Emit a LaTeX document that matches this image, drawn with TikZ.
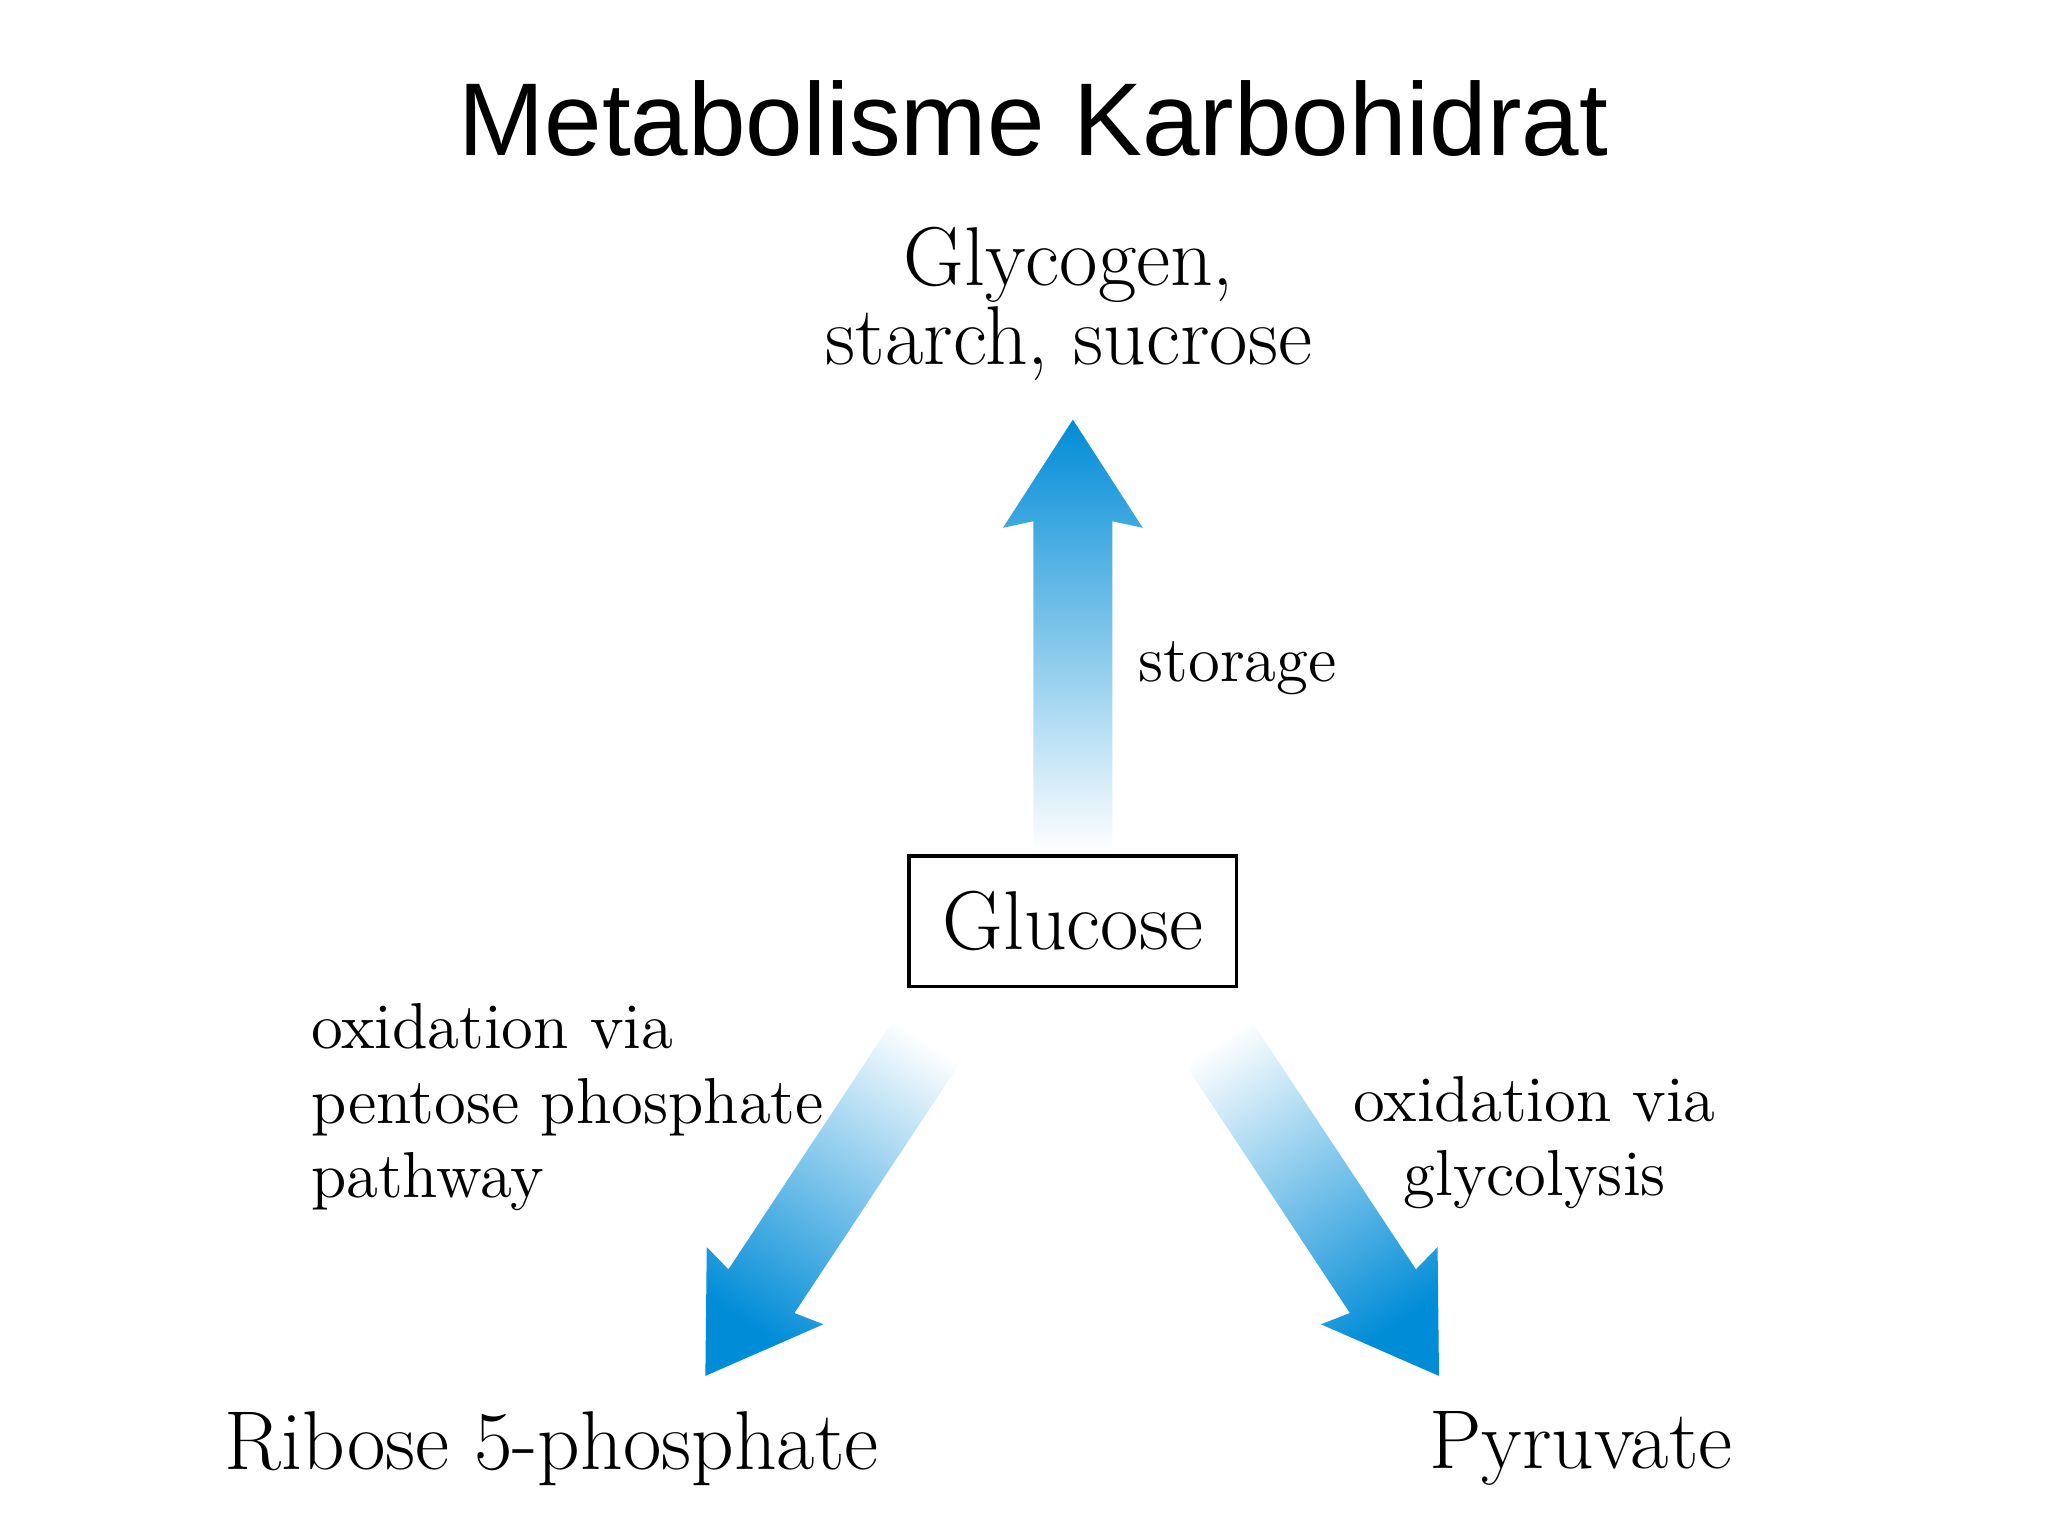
\documentclass[tikz,border=0pt]{standalone}
\usepackage{fontspec}
\newfontfamily\titlefont{Liberation Sans}
\definecolor{arrblue}{RGB}{0,140,215}
\tikzset{
  fatarrow/.style={shading=axis, top color=arrblue, bottom color=white, draw=none},
  lbl/.style={font=\fontsize{14}{16}\selectfont, align=left, inner sep=0pt},
  big/.style={font=\fontsize{18}{19}\selectfont, inner sep=0pt, align=center}
}
\newcommand{\fatarrowpath}{(-30,0)--(30,0)--(30,250)--(53,245)--(0,327)--(-53,245)--(-30,250)--cycle}
\begin{document}
\begin{tikzpicture}[x=0.1mm,y=0.1mm]
\useasboundingbox (0,0) rectangle (1552,1164);
\node[font=\titlefont\fontsize{22.3}{24}\selectfont] (title) at (783,1074) {Metabolisme Karbohidrat};
\node[big] (glyc) at (810,934) {Glycogen,\\[-2pt] starch, sucrose};
\node[big, draw, minimum width=24.8mm, minimum height=9.9mm, line width=0.8pt] (glu) at (813,466) {Glucose};
\node[big] (rib) at (418,66) {Ribose 5-phosphate};
\node[big] (pyr) at (1198,66) {Pyruvate};
\node[lbl, anchor=west] (sto) at (862,658) {storage};
\node[lbl, anchor=north west] (left) at (235,404) {oxidation via\\ pentose phosphate\\ pathway};
\node[lbl, align=center, anchor=north] (right) at (1163,349) {oxidation via\\ glycolysis};
\begin{scope}[shift={(813,519)}]
  \path[fatarrow] \fatarrowpath;
\end{scope}
\begin{scope}[shift={(715,394)}, rotate=146.5]
  \path[fatarrow, shading angle=146.5] \fatarrowpath;
\end{scope}
\begin{scope}[shift={(910,394)}, rotate=-146.5]
  \path[fatarrow, shading angle=-146.5] \fatarrowpath;
\end{scope}
\end{tikzpicture}
\end{document}
